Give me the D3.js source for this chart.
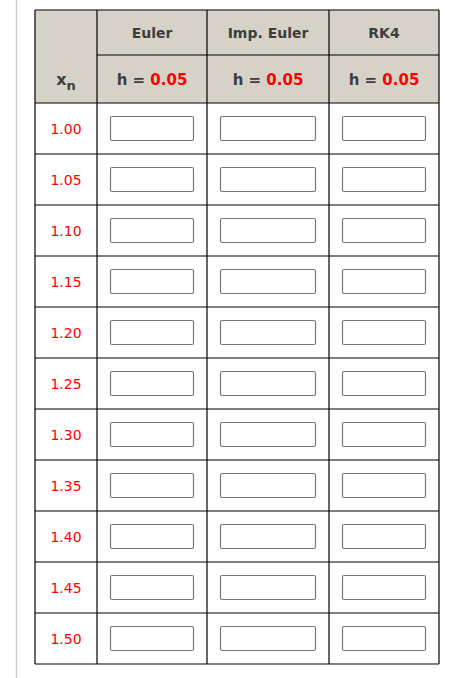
<!DOCTYPE html><html><head><script src="https://d3js.org/d3.v7.min.js"></script>
<style>body{margin:0;background:#fff}</style></head><body><svg id="c" width="467" height="678"></svg>
<script>
const methods=["Euler","Imp. Euler","RK4"];
const stepLabels=["0.05","0.05","0.05"];
const xValues=["1.00","1.05","1.10","1.15","1.20","1.25","1.30","1.35","1.40","1.45","1.50"];
(function(){
const svg=d3.select("#c");
const font="DejaVu Sans, Verdana, sans-serif";
svg.append("line").attr("x1",16.5).attr("x2",16.5).attr("y1",0).attr("y2",678).attr("stroke","#ccc").attr("stroke-width",1.5);
const colEdges=[35,97,207,329,439];
const bands=[{x0:97,x1:207},{x0:207,x1:329},{x0:329,x1:439}];
const tableTop=10,h1=45,h2=48;
const rowY=d3.scaleBand().domain(xValues).range([103,664]);
svg.append("rect").attr("x",35).attr("y",tableTop).attr("width",404).attr("height",h1+h2).attr("fill","#d6d2c7");
const g=svg.append("g");
methods.forEach((m,i)=>{const cx=(bands[i].x0+bands[i].x1)/2;
 g.append("text").attr("x",cx).attr("y",tableTop+h1/2+5).attr("text-anchor","middle").attr("font-family",font).attr("font-weight","bold").attr("font-size",14).attr("fill","#3d3d3d").text(m);
 const t=g.append("text").attr("x",cx).attr("y",tableTop+h1+h2/2+6).attr("text-anchor","middle").attr("font-family",font).attr("font-weight","bold").attr("font-size",15).attr("fill","#3d3d3d");
 t.append("tspan").text("h = ");t.append("tspan").attr("fill","#ff0000").text(stepLabels[i]);
});
const xn=g.append("text").attr("x",66).attr("y",tableTop+h1+h2/2+6).attr("text-anchor","middle").attr("font-family",font).attr("font-weight","bold").attr("font-size",16).attr("fill","#3d3d3d");
xn.append("tspan").text("x");xn.append("tspan").attr("font-size",13).attr("dy",5).text("n");
xValues.forEach(v=>{const y0=rowY(v),bh=rowY.bandwidth();
 g.append("text").attr("x",66).attr("y",y0+bh/2+5).attr("text-anchor","middle").attr("font-family",font).attr("font-size",14).attr("fill","#ff0000").text(v);
 bands.forEach(b=>{g.append("rect").attr("x",b.x0+13.5).attr("y",y0+bh/2-12).attr("width",b.x1-b.x0-27).attr("height",24).attr("rx",1.5).attr("fill","#fff").attr("stroke","#777").attr("stroke-width",1.2);});
});
const ys=[tableTop,tableTop+h1,103,...xValues.map(v=>rowY(v)+rowY.bandwidth())];
ys.forEach((y,i)=>{const x0=(i==1)?97:35;svg.append("line").attr("x1",x0).attr("x2",439).attr("y1",y).attr("y2",y).attr("stroke","#000").attr("stroke-width",1.2);});
colEdges.forEach(cx=>{svg.append("line").attr("x1",cx).attr("x2",cx).attr("y1",tableTop).attr("y2",664).attr("stroke","#000").attr("stroke-width",1.2);});
})();
</script></body></html>
